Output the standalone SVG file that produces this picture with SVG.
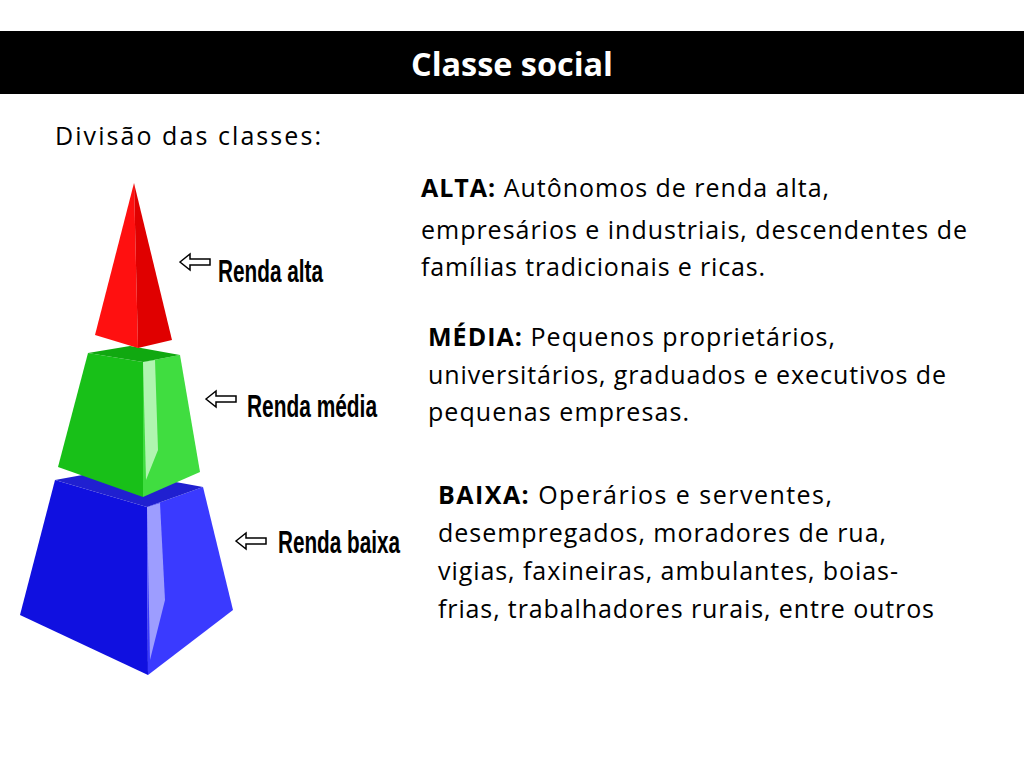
<svg xmlns="http://www.w3.org/2000/svg" width="1024" height="768" viewBox="0 0 1024 768">
<style>
.t{font-family:"Open Sans","Liberation Sans",sans-serif;font-size:25px;fill:#000}
.l{font-family:"Liberation Sans",sans-serif;font-weight:bold;font-size:31px;fill:#000}
.ar{fill:#fff;stroke:#000;stroke-width:1.5}
</style>
<rect width="1024" height="768" fill="#fff"/>
<rect x="0" y="31" width="1024" height="63" fill="#000"/>
<text x="512" y="76" text-anchor="middle" font-family="Open Sans,Liberation Sans,sans-serif" font-weight="bold" font-size="32" fill="#fff" textLength="202" lengthAdjust="spacingAndGlyphs">Classe social</text>
<text class="t" x="55" y="145" textLength="266">Divisão das classes:</text>
<g id="baixa-block">
<polygon points="55,480 147,507 148,675 20,615" fill="#1010e0"/>
<polygon points="147,507 203,487 233,610 148,675" fill="#3a3aff"/>
<polygon points="147,507 160,503 165,600 150,660" fill="#c8c8ff" opacity="0.7"/>
<polygon points="55,480 110,470 203,487 147,507" fill="#2020d0"/>
</g>
<g id="media-block">
<polygon points="88,353 143,362 143,497 58,467" fill="#18c018"/>
<polygon points="143,362 180,355 200,472 143,497" fill="#40dd40"/>
<polygon points="143,362 155,360 158,450 146,480" fill="#e0ffe0" opacity="0.7"/>
<polygon points="88,353 130,346 180,355 143,362" fill="#10a810"/>
</g>
<g id="alta-block">
<polygon points="134,183 138,348 95,335" fill="#ff1010"/>
<polygon points="134,183 172,340 138,348" fill="#e00000"/>
</g>
<g id="connectors">
<path class="ar" d="M180,262 l10,-8 v5 h20 v6 h-20 v5 z"/>
<path class="ar" d="M206,399 l10,-8 v5 h20 v6 h-20 v5 z"/>
<path class="ar" d="M236,541 l10,-8 v5 h20 v6 h-20 v5 z"/>
</g>
<g id="labels">
<text class="l" x="218" y="282" textLength="105" lengthAdjust="spacingAndGlyphs">Renda alta</text>
<text class="l" x="247" y="417" textLength="130" lengthAdjust="spacingAndGlyphs">Renda média</text>
<text class="l" x="278" y="553" textLength="122" lengthAdjust="spacingAndGlyphs">Renda baixa</text>
</g>
<g id="alta-text" class="t">
<text x="421" y="197" textLength="408"><tspan font-weight="bold">ALTA:</tspan> Autônomos de renda alta,</text>
<text x="421" y="239" textLength="546">empresários e industriais, descendentes de</text>
<text x="421" y="276" textLength="344">famílias tradicionais e ricas.</text>
</g>
<g id="media-text" class="t">
<text x="428" y="346" textLength="407"><tspan font-weight="bold">MÉDIA:</tspan> Pequenos proprietários,</text>
<text x="428" y="384" textLength="518">universitários, graduados e executivos de</text>
<text x="428" y="421" textLength="261">pequenas empresas.</text>
</g>
<g id="baixa-text" class="t">
<text x="438" y="504" textLength="394"><tspan font-weight="bold">BAIXA:</tspan> Operários e serventes,</text>
<text x="438" y="542" textLength="448">desempregados, moradores de rua,</text>
<text x="438" y="580" textLength="460">vigias, faxineiras, ambulantes, boias-</text>
<text x="438" y="618" textLength="496">frias, trabalhadores rurais, entre outros</text>
</g>
</svg>
